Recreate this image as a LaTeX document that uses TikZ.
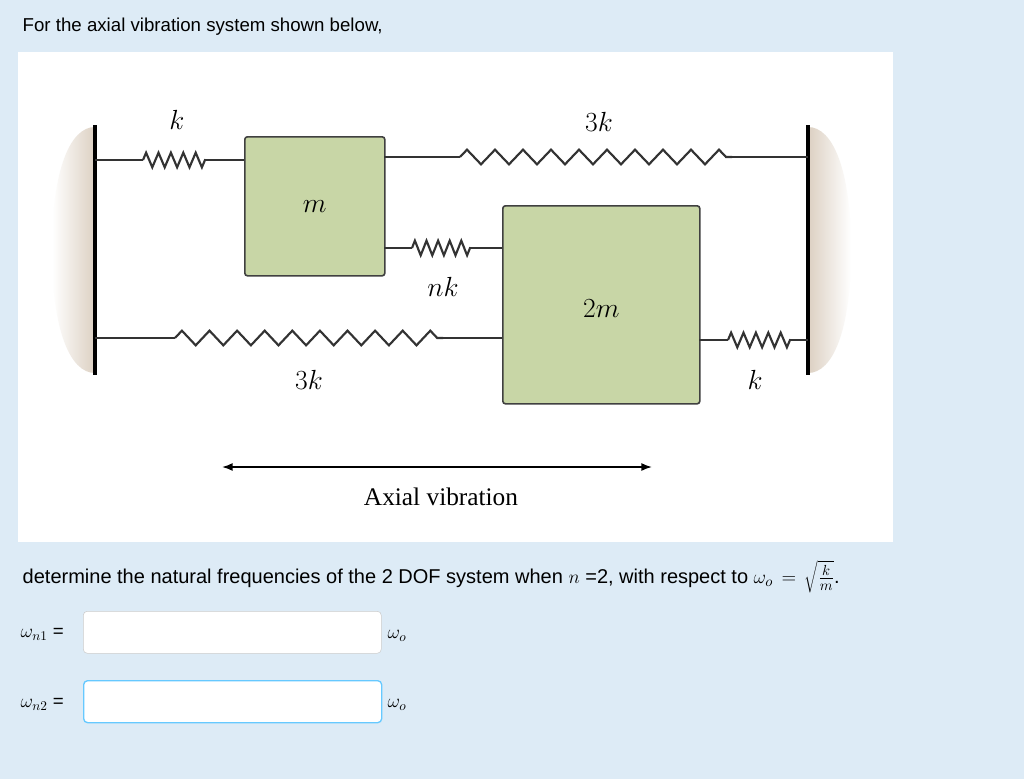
\documentclass[tikz,border=0pt]{standalone}
\usepackage{fontspec}
\setmainfont{Liberation Sans}
\newfontfamily\serifx{Liberation Serif}
\usetikzlibrary{decorations.pathmorphing,arrows.meta}
\definecolor{bgblue}{HTML}{DDEBF6}
\definecolor{massgreen}{HTML}{C8D6A6}
\definecolor{wallbeige}{HTML}{DCD0C2}
\tikzset{
  mass/.style={draw=black!75,line width=1.2pt,fill=massgreen,rounded corners=2pt,anchor=north west,inner sep=0pt},
  rod/.style={draw=black!80,line width=1.6pt},
  wall/.style={draw=black,line width=3pt},
  lbl/.style={font=\fontsize{21}{24}\selectfont},
  ansbox/.style={draw=black!20,fill=white,rounded corners=3pt,minimum width=223.5pt,minimum height=31.5pt,anchor=north west,inner sep=0pt},
}
\newcommand{\springto}[5]{% from, zig start, zig end, to, seglen
  \draw[rod] (#1) -- (#2);
  \draw[rod,decorate,decoration={zigzag,segment length=#5,amplitude=5.5pt}] (#2) -- (#3);
  \draw[rod] (#3) -- (#4);}
\begin{document}
\begin{tikzpicture}[x=0.75pt,y=-0.75pt]
\useasboundingbox (0,0) rectangle (1024,779);
\fill[bgblue] (0,0) rectangle (1024,779);
\node[anchor=west,font=\fontsize{14}{16}\selectfont] (title) at (18,27) {For the axial vibration system shown below,};
\fill[white] (18,52) rectangle (893,542);
% walls shading
\shade[left color=white,right color=wallbeige] (95,127) .. controls (70,127) and (52,170) .. (52,250) .. controls (52,330) and (70,373) .. (95,373) -- cycle;
\shade[right color=white,left color=wallbeige] (808,127) .. controls (833,127) and (851,170) .. (851,250) .. controls (851,330) and (833,373) .. (808,373) -- cycle;
\draw[wall] (95,125) coordinate (wlt) -- (95,375) coordinate (wlb);
\draw[wall] (808,125) coordinate (wrt) -- (808,375) coordinate (wrb);
% masses
\node[mass,minimum width=105pt,minimum height=104.25pt] (m1) at (244,136) {};
\node[lbl] at (m1.center) {$m$};
\node[mass,minimum width=147.75pt,minimum height=148.5pt] (m2) at (502,205) {};
\node[lbl] at ([yshift=-3pt]m2.center) {$2m$};
% attachment coordinates
\coordinate (a1) at (95,160); \coordinate (a2) at (244,160);
\coordinate (b1) at (384,157); \coordinate (b2) at (808,157);
\coordinate (c1) at (384,248); \coordinate (c2) at (502,248);
\coordinate (d1) at (95,338); \coordinate (d2) at (502,338);
\coordinate (e1) at (699,340); \coordinate (e2) at (808,340);
\springto{a1}{143,160}{205,160}{a2}{9.3pt}
\springto{b1}{460,157}{732,157}{b2}{21pt}
\springto{c1}{412,248}{470,248}{c2}{8.7pt}
\springto{d1}{175,338}{443,338}{d2}{20.7pt}
\springto{e1}{728,340}{790,340}{e2}{9.3pt}
\node[lbl] (lk1) at (177,120) {$k$};
\node[lbl] (l3k1) at (599,122) {$3k$};
\node[lbl] (lnk) at (443,287) {$nk$};
\node[lbl] (l3k2) at (309,380) {$3k$};
\node[lbl] (lk2) at (755,380) {$k$};
% arrow
\coordinate (ar1) at (222,467); \coordinate (ar2) at (652,467);
\draw[line width=1.2pt,{Latex[length=8pt]}-{Latex[length=8pt]}] (ar1) -- (ar2);
\node[font=\serifx\fontsize{19}{22}\selectfont] (axial) at (441,497) {Axial vibration};
% question
\node[anchor=west,font=\fontsize{15}{17}\selectfont] (q) at (18,577) {determine the natural frequencies of the 2 DOF system when $n$ =2, with respect to $\omega_o\,=\,\sqrt{\frac{k}{m}}$.};
\node[ansbox] (box1) at (83,611) {};
\node[ansbox,draw=blue!35!cyan!60,line width=1pt] (box2) at (83,680) {};
\node[anchor=west,font=\fontsize{14}{16}\selectfont] (w1) at (16,634) {$\omega_{n1}$ =};
\node[anchor=west,font=\fontsize{14}{16}\selectfont] (w2) at (16,704) {$\omega_{n2}$ =};
\node[anchor=west,font=\fontsize{14}{16}\selectfont] (o1) at (383,636) {$\omega_o$};
\node[anchor=west,font=\fontsize{14}{16}\selectfont] (o2) at (383,705) {$\omega_o$};
\end{tikzpicture}
\end{document}
